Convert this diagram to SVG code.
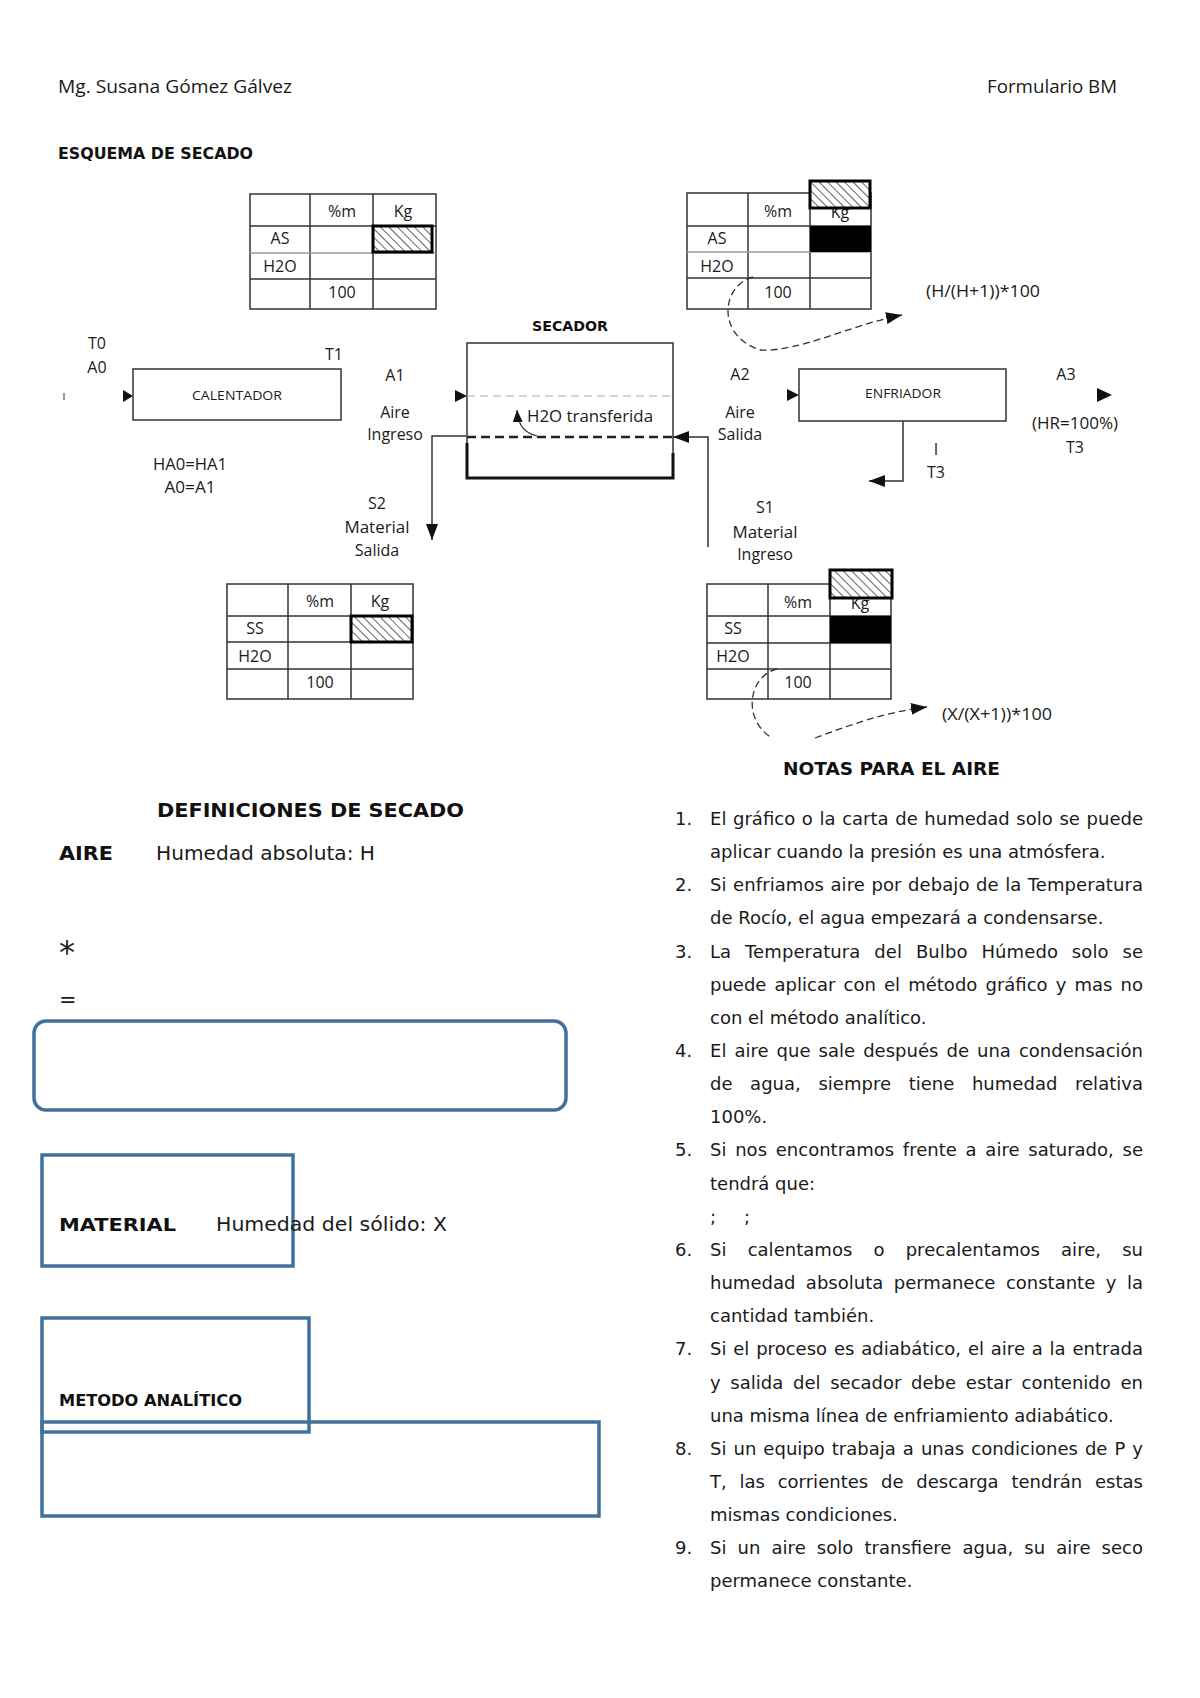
<svg xmlns="http://www.w3.org/2000/svg" width="1200" height="1698" viewBox="0 0 1200 1698">
<style>
.hdr{font-family:"Open Sans","Liberation Sans",sans-serif;font-size:18px;fill:#1a1a1a}
.lbl{font-family:"Open Sans","Liberation Sans",sans-serif;font-size:16px;fill:#1a1a1a;text-anchor:middle}
.lbls{font-family:"Open Sans","Liberation Sans",sans-serif;font-size:13px;fill:#1a1a1a;text-anchor:middle}
.st{text-anchor:start}
.bold{font-family:"DejaVu Sans","Verdana",sans-serif;font-weight:bold;fill:#111}
.def{font-family:"DejaVu Sans","Verdana",sans-serif;font-size:19px;fill:#1a1a1a}
.note{font-family:"DejaVu Sans","Verdana",sans-serif;font-size:18px;fill:#1a1a1a}
.tb{fill:#fff;stroke:#333;stroke-width:1.5}
.tl{stroke:#333;stroke-width:1.5;fill:none}
.tt{font-family:"Open Sans","Liberation Sans",sans-serif;font-size:16px;fill:#1a1a1a;text-anchor:middle}
.hatch{fill:url(#hatch);stroke:#000;stroke-width:3}
.box{fill:#fff;stroke:#333;stroke-width:1.5}
.con{fill:none;stroke:#333;stroke-width:1.5}
.blue{fill:none;stroke:#41719c;stroke-width:3.5}
</style>
<defs>
<pattern id="hatch" patternUnits="userSpaceOnUse" width="6" height="6" patternTransform="rotate(-45)">
<rect width="6" height="6" fill="#fff"/>
<line x1="0" y1="0" x2="0" y2="6" stroke="#111" stroke-width="1.3"/>
</pattern>
<marker id="arr" viewBox="0 0 12 10" refX="12" refY="5" markerWidth="12" markerHeight="10" markerUnits="userSpaceOnUse" orient="auto">
<path d="M0,0 L12,5 L0,10 Z" fill="#111"/>
</marker>
<marker id="arrL" viewBox="0 0 16 12" refX="16" refY="6" markerWidth="16" markerHeight="12" markerUnits="userSpaceOnUse" orient="auto">
<path d="M0,0 L16,6 L0,12 Z" fill="#111"/>
</marker>
</defs>
<rect width="1200" height="1698" fill="#fff"/>

<g id="header">
<text class="hdr" x="58" y="93" textLength="234" lengthAdjust="spacingAndGlyphs">Mg. Susana Gómez Gálvez</text>
<text class="hdr" x="987" y="93" textLength="130" lengthAdjust="spacingAndGlyphs">Formulario BM</text>
<text class="bold" x="58" y="159" font-size="15" textLength="195" lengthAdjust="spacingAndGlyphs">ESQUEMA DE SECADO</text>
</g>

<g id="table-a1">
<rect class="tb" x="250" y="194" width="186" height="115"/>
<path class="tl" d="M310,194V309M373,194V309M250,226H436M250,279H436"/>
<path d="M250,253H436" stroke="#999" stroke-width="1.5"/>
<rect class="hatch" x="373" y="226" width="59" height="26"/>
<text class="tt" x="342" y="217">%m</text>
<text class="tt" x="403" y="217">Kg</text>
<text class="tt" x="280" y="244">AS</text>
<text class="tt" x="280" y="272">H2O</text>
<text class="tt" x="342" y="298">100</text>
</g>

<g id="table-a2">
<rect class="tb" x="687" y="193" width="184" height="116"/>
<path class="tl" d="M748,193V309M810,193V309M687,226H871M687,278H871"/>
<path d="M687,252H871" stroke="#999" stroke-width="1.5"/>
<text class="tt" x="778" y="217">%m</text>
<text class="tt" x="840" y="218">Kg</text>
<rect x="810" y="226" width="61" height="26" fill="#000"/>
<rect class="hatch" x="810" y="181" width="60" height="27"/>
<text class="tt" x="717" y="244">AS</text>
<text class="tt" x="717" y="272">H2O</text>
<text class="tt" x="778" y="298">100</text>
</g>

<g id="table-s2">
<rect class="tb" x="227" y="584" width="186" height="115"/>
<path class="tl" d="M288,584V699M351,584V699M227,616H413M227,642H413M227,669H413"/>
<rect class="hatch" x="351" y="616" width="61" height="26"/>
<text class="tt" x="320" y="607">%m</text>
<text class="tt" x="380" y="607">Kg</text>
<text class="tt" x="255" y="634">SS</text>
<text class="tt" x="255" y="662">H2O</text>
<text class="tt" x="320" y="688">100</text>
</g>

<g id="table-s1">
<rect class="tb" x="707" y="584" width="184" height="115"/>
<path class="tl" d="M768,584V699M830,584V699M707,616H891M707,643H891M707,669H891"/>
<text class="tt" x="798" y="608">%m</text>
<text class="tt" x="860" y="609">Kg</text>
<rect x="830" y="616" width="61" height="27" fill="#000"/>
<rect class="hatch" x="830" y="570" width="62" height="28"/>
<text class="tt" x="733" y="634">SS</text>
<text class="tt" x="733" y="662">H2O</text>
<text class="tt" x="798" y="688">100</text>
</g>

<g id="calentador">
<rect class="box" x="133" y="369" width="208" height="51"/>
<text class="lbls" x="237" y="400" textLength="90" lengthAdjust="spacingAndGlyphs">CALENTADOR</text>
</g>

<g id="secador">
<text class="bold" x="570" y="331" font-size="14" text-anchor="middle" textLength="76" lengthAdjust="spacingAndGlyphs">SECADOR</text>
<path d="M467,443V343H673V453" fill="none" stroke="#333" stroke-width="1.5"/>
<path d="M467,443V478H673V453" fill="none" stroke="#111" stroke-width="3"/>
<line x1="467" y1="396" x2="673" y2="396" stroke="#aaa" stroke-width="1.2" stroke-dasharray="8,5"/>
<line x1="467" y1="437" x2="673" y2="437" stroke="#222" stroke-width="2.5" stroke-dasharray="9,5"/>
<text class="lbl st" x="527" y="422" textLength="126" lengthAdjust="spacingAndGlyphs">H2O transferida</text>
</g>

<g id="enfriador">
<rect class="box" x="799" y="369" width="207" height="52"/>
<text class="lbls" x="903" y="398" style="font-size:12px" textLength="76" lengthAdjust="spacingAndGlyphs">ENFRIADOR</text>
</g>

<g id="labels">
<text class="lbl" x="97" y="349">T0</text>
<text class="lbl" x="97" y="373">A0</text>
<text class="lbl" x="334" y="360">T1</text>
<text class="lbl" x="395" y="381">A1</text>
<text class="lbl" x="395" y="418">Aire</text>
<text class="lbl" x="395" y="440">Ingreso</text>
<text class="lbl" x="190" y="470" textLength="74" lengthAdjust="spacingAndGlyphs">HA0=HA1</text>
<text class="lbl" x="190" y="493" textLength="51" lengthAdjust="spacingAndGlyphs">A0=A1</text>
<text class="lbl" x="377" y="509">S2</text>
<text class="lbl" x="377" y="533" textLength="65" lengthAdjust="spacingAndGlyphs">Material</text>
<text class="lbl" x="377" y="556">Salida</text>
<text class="lbl" x="740" y="380">A2</text>
<text class="lbl" x="740" y="418">Aire</text>
<text class="lbl" x="740" y="440">Salida</text>
<text class="lbl" x="936" y="455">I</text>
<text class="lbl" x="936" y="478">T3</text>
<text class="lbl" x="1066" y="380">A3</text>
<text class="lbl" x="1075" y="429" textLength="86" lengthAdjust="spacingAndGlyphs">(HR=100%)</text>
<text class="lbl" x="1075" y="453">T3</text>
<text class="lbl" x="765" y="513">S1</text>
<text class="lbl" x="765" y="538" textLength="65" lengthAdjust="spacingAndGlyphs">Material</text>
<text class="lbl" x="765" y="560">Ingreso</text>
<text class="lbl st" x="926" y="297" textLength="114" lengthAdjust="spacingAndGlyphs">(H/(H+1))*100</text>
<text class="lbl st" x="942" y="720" textLength="110" lengthAdjust="spacingAndGlyphs">(X/(X+1))*100</text>
</g>

<g id="connectors">
<line x1="64" y1="393" x2="64" y2="400" stroke="#777" stroke-width="1.5"/>
<path d="M123,390L133,396L123,402Z" fill="#111"/>
<path d="M455,390L467,396L455,402Z" fill="#111"/>
<path class="con" d="M466,436H432V540" marker-end="url(#arrL)"/>
<path class="con" d="M708,547V437H673" marker-end="url(#arrL)"/>
<path d="M787,389L799,395L787,401Z" fill="#111"/>
<path class="con" d="M903,421V481H869" marker-end="url(#arrL)"/>
<path d="M1097,388L1112,395L1097,402Z" fill="#111"/>
<path d="M537,436C525,433 518,426 517,410" fill="none" stroke="#333" stroke-width="1.2" marker-end="url(#arr)"/>
<path d="M753,277C722,285 715,335 760,350C800,352 850,325 902,315" fill="none" stroke="#333" stroke-width="1.3" stroke-dasharray="7,4" marker-end="url(#arrL)"/>
<path d="M777,669C748,676 742,720 772,738M815,738C850,725 885,712 927,707" fill="none" stroke="#333" stroke-width="1.3" stroke-dasharray="7,4" marker-end="url(#arrL)"/>
</g>

<g id="definiciones">
<text class="bold" x="157" y="817" font-size="19" textLength="307" lengthAdjust="spacingAndGlyphs">DEFINICIONES DE SECADO</text>
<text class="bold" x="59" y="860" font-size="19" textLength="54" lengthAdjust="spacingAndGlyphs">AIRE</text>
<text class="def" x="156" y="860" textLength="219" lengthAdjust="spacingAndGlyphs">Humedad absoluta:  H</text>
<text class="def" x="59" y="963" style="font-size:32px">*</text>
<text class="def" x="59" y="1007" style="font-size:21px">=</text>
<rect class="blue" x="34" y="1021" width="532" height="89" rx="12"/>
<rect class="blue" x="42" y="1155" width="251" height="111"/>
<text class="bold" x="59" y="1231" font-size="18" textLength="117" lengthAdjust="spacingAndGlyphs">MATERIAL</text>
<text class="def" x="216" y="1231" textLength="231" lengthAdjust="spacingAndGlyphs">Humedad del sólido:  X</text>
<rect class="blue" x="42" y="1318" width="267" height="114"/>
<text class="bold" x="59" y="1406" font-size="15" textLength="183" lengthAdjust="spacingAndGlyphs">METODO ANALÍTICO</text>
<rect class="blue" x="42" y="1422" width="557" height="94"/>
</g>

<g id="notas">
<text class="bold" x="783" y="775" font-size="18" textLength="217" lengthAdjust="spacingAndGlyphs">NOTAS PARA EL AIRE</text>
<text class="note" x="675" y="825">1.</text>
<text class="note" x="710" y="825" style="word-spacing:0.9px" textLength="433" lengthAdjust="spacing">El gráfico o la carta de humedad solo se puede</text>
<text class="note" x="710" y="858">aplicar cuando la presión es una atmósfera.</text>
<text class="note" x="675" y="891">2.</text>
<text class="note" x="710" y="891" style="word-spacing:0.7px" textLength="433" lengthAdjust="spacing">Si enfriamos aire por debajo de la Temperatura</text>
<text class="note" x="710" y="924">de Rocío, el agua empezará a condensarse.</text>
<text class="note" x="675" y="958">3.</text>
<text class="note" x="710" y="958" style="word-spacing:8px" textLength="433" lengthAdjust="spacing">La Temperatura del Bulbo Húmedo solo se</text>
<text class="note" x="710" y="991" style="word-spacing:2.4px" textLength="433" lengthAdjust="spacing">puede aplicar con el método gráfico y mas no</text>
<text class="note" x="710" y="1024">con el método analítico.</text>
<text class="note" x="675" y="1057">4.</text>
<text class="note" x="710" y="1057" style="word-spacing:2.3px" textLength="433" lengthAdjust="spacing">El aire que sale después de una condensación</text>
<text class="note" x="710" y="1090" style="word-spacing:11.8px" textLength="433" lengthAdjust="spacing">de agua, siempre tiene humedad relativa</text>
<text class="note" x="710" y="1123">100%.</text>
<text class="note" x="675" y="1156">5.</text>
<text class="note" x="710" y="1156" style="word-spacing:3px" textLength="433" lengthAdjust="spacing">Si nos encontramos frente a aire saturado, se</text>
<text class="note" x="710" y="1190">tendrá que:</text>
<text class="note" x="710" y="1223">;</text>
<text class="note" x="744" y="1223">;</text>
<text class="note" x="675" y="1256">6.</text>
<text class="note" x="710" y="1256" style="word-spacing:15.4px" textLength="433" lengthAdjust="spacing">Si calentamos o precalentamos aire, su</text>
<text class="note" x="710" y="1289" style="word-spacing:4.8px" textLength="433" lengthAdjust="spacing">humedad absoluta permanece constante y la</text>
<text class="note" x="710" y="1322">cantidad también.</text>
<text class="note" x="675" y="1355">7.</text>
<text class="note" x="710" y="1355" style="word-spacing:1px" textLength="433" lengthAdjust="spacing">Si el proceso es adiabático, el aire a la entrada</text>
<text class="note" x="710" y="1389" style="word-spacing:4px" textLength="433" lengthAdjust="spacing">y salida del secador debe estar contenido en</text>
<text class="note" x="710" y="1422">una misma línea de enfriamiento adiabático.</text>
<text class="note" x="675" y="1455">8.</text>
<text class="note" x="710" y="1455" style="word-spacing:1.3px" textLength="433" lengthAdjust="spacing">Si un equipo trabaja a unas condiciones de P y</text>
<text class="note" x="710" y="1488" style="word-spacing:7px" textLength="433" lengthAdjust="spacing">T, las corrientes de descarga tendrán estas</text>
<text class="note" x="710" y="1521">mismas condiciones.</text>
<text class="note" x="675" y="1554">9.</text>
<text class="note" x="710" y="1554" style="word-spacing:5.3px" textLength="433" lengthAdjust="spacing">Si un aire solo transfiere agua, su aire seco</text>
<text class="note" x="710" y="1587">permanece constante.</text>
</g>
</svg>
